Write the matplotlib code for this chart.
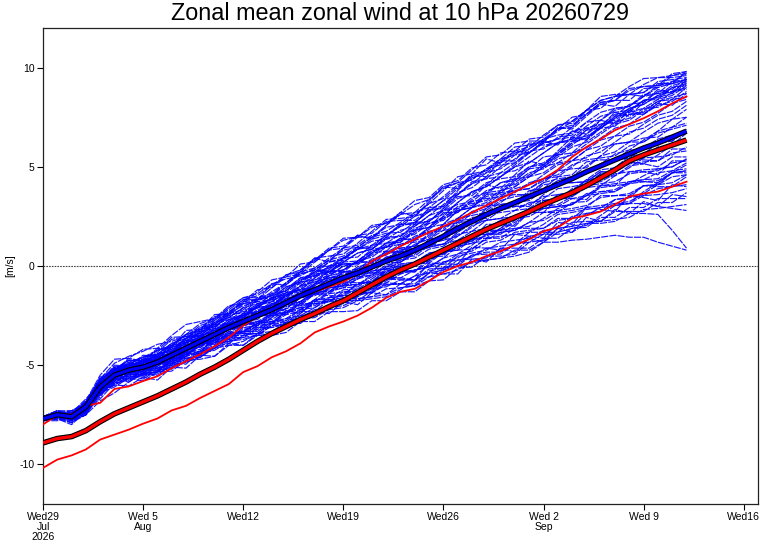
import matplotlib
matplotlib.use("Agg")
import matplotlib.pyplot as plt
import numpy as np
import pandas as pd

plt.rcParams['font.family'] = ['Liberation Sans', 'DejaVu Sans']

# ---------------- data ----------------
start_date = "2026-07-29"
n_days = 46
dates = pd.date_range(start_date, periods=n_days, freq="D")

# ensemble mean (m/s)
ens_mean = [-7.7, -7.5, -7.6, -7.1, -6.1, -5.5, -5.25, -5.1, -4.85, -4.5,
            -4.15, -3.8, -3.45, -3.1, -2.8, -2.5, -2.2, -1.85, -1.5, -1.2,
            -0.9, -0.6, -0.35, -0.05, 0.25, 0.5, 0.8, 1.15, 1.5, 1.9,
            2.25, 2.6, 2.9, 3.2, 3.5, 3.8, 4.1, 4.4, 4.75, 5.05,
            5.35, 5.65, 5.95, 6.2, 6.5, 6.8]

# climatological mean and bounds
clim_mean = [-8.92, -8.7, -8.6, -8.3, -7.85, -7.45, -7.15, -6.85, -6.55, -6.2,
             -5.85, -5.45, -5.1, -4.7, -4.25, -3.8, -3.4, -3.05, -2.7, -2.4,
             -2.05, -1.75, -1.35, -0.95, -0.55, -0.2, 0.1, 0.45, 0.8, 1.15,
             1.5, 1.85, 2.15, 2.45, 2.75, 3.1, 3.4, 3.7, 4.05, 4.45,
             4.85, 5.3, 5.6, 5.85, 6.1, 6.35]
clim_low = [-10.18, -9.76, -9.55, -9.25, -8.75, -8.5, -8.25, -7.95, -7.69, -7.28,
            -7.05, -6.65, -6.3, -5.95, -5.35, -5.05, -4.6, -4.3, -3.9, -3.35,
            -3.05, -2.8, -2.5, -2.1, -1.6, -1.3, -1.15, -0.75, -0.3, 0.0,
            0.2, 0.5, 0.75, 1.05, 1.35, 1.75, 1.95, 2.4, 2.55, 2.75,
            3.1, 3.5, 3.65, 3.75, 4.0, 4.25]
clim_high = [-7.99, -7.52, -7.49, -7.05, -6.9, -6.2, -6.07, -5.8, -5.56, -5.15,
             -4.8, -4.45, -4.05, -3.6, -3.0, -2.55, -2.25, -1.85, -1.53, -1.3,
             -1.05, -0.8, -0.4, 0.25, 0.6, 1.0, 1.35, 1.7, 2.0, 2.33,
             2.7, 3.05, 3.4, 3.75, 4.1, 4.4, 4.85, 5.5, 6.0, 6.4,
             6.85, 7.15, 7.45, 7.8, 8.2, 8.55]

# ensemble members, stored as deviations from the ensemble mean (m/s)
member_offsets = [
    [0.1,0.1,0.0,0.1,0.2,0.2,0.3,0.3,0.4,0.3,0.5,0.6,0.5,0.7,0.8,0.7,0.9,1.0,1.1,1.0,1.2,1.4,1.3,1.5,1.7,1.6,1.8,2.0,1.9,2.1,2.3,2.2,2.4,2.6,2.5,2.8,3.0,2.9,3.1,3.3,3.2,3.0,3.2,3.3,3.1,3.0],
    [0.0,-0.1,0.1,0.0,-0.1,0.1,0.2,0.1,0.0,0.2,0.3,0.2,0.1,0.3,0.4,0.6,0.5,0.3,0.4,0.6,0.8,0.7,0.5,0.7,0.9,1.1,1.0,0.8,1.0,1.3,1.5,1.4,1.6,1.9,2.2,2.4,2.3,2.6,3.1,3.5,3.3,3.0,2.8,3.0,2.7,2.6],
    [-0.1,0.0,-0.2,-0.3,-0.2,-0.3,-0.2,-0.4,-0.3,-0.5,-0.4,-0.6,-0.5,-0.7,-0.8,-0.6,-0.9,-1.0,-0.8,-1.1,-1.2,-1.0,-1.3,-1.5,-1.4,-1.6,-1.8,-1.7,-1.9,-2.1,-2.0,-2.3,-2.5,-2.4,-2.7,-2.6,-2.9,-3.1,-3.4,-3.6,-3.8,-4.2,-4.5,-5.0,-5.5,-6.0],
    [-0.1,-0.1,0.0,-0.2,0.1,0.0,-0.1,-0.2,-0.1,0.0,-0.3,-0.2,-0.4,-0.3,-0.5,-0.4,-0.6,-0.5,-0.7,-0.9,-0.8,-1.0,-1.2,-1.1,-1.3,-1.2,-1.5,-1.4,-1.6,-1.8,-1.7,-1.9,-2.2,-2.1,-2.3,-2.2,-2.5,-2.7,-2.6,-2.9,-3.1,-3.0,-3.3,-3.6,-4.7,-5.9],
    [0.1,0.2,0.1,0.2,0.3,0.2,0.4,0.5,0.4,0.6,0.5,0.7,0.6,0.8,0.9,0.8,0.7,0.9,1.1,1.0,1.2,1.1,1.3,1.5,1.4,1.2,1.4,1.6,1.5,1.7,1.9,1.8,1.6,1.8,2.0,2.2,2.1,1.9,2.1,2.3,2.5,2.4,2.6,2.8,2.7,2.6],
    [0.0,0.1,-0.1,0.0,-0.2,-0.3,-0.2,-0.4,-0.5,-0.3,-0.4,-0.2,-0.3,-0.5,-0.4,-0.6,-0.7,-0.5,-0.6,-0.8,-0.7,-0.9,-0.8,-1.0,-1.1,-0.9,-1.0,-1.2,-1.4,-1.3,-1.5,-1.4,-1.6,-1.5,-1.7,-1.9,-1.8,-2.0,-2.2,-2.1,-2.3,-2.5,-2.4,-2.6,-2.8,-2.9],
    [0.1,0.0,0.1,0.2,0.1,0.3,0.2,0.1,0.3,0.4,0.2,0.3,0.5,0.4,0.3,0.5,0.6,0.4,0.5,0.7,0.6,0.4,0.6,0.8,0.7,0.9,1.1,1.0,0.8,1.0,1.2,1.1,1.3,1.2,1.0,1.2,1.4,1.6,1.5,1.7,1.9,1.8,2.0,2.2,2.1,2.3],
    [-0.1,-0.2,-0.3,-0.4,-0.3,-0.2,-0.4,-0.3,-0.5,-0.6,-0.4,-0.5,-0.7,-0.6,-0.8,-0.7,-0.9,-1.1,-1.0,-1.2,-1.1,-1.3,-1.2,-1.0,-1.2,-1.4,-1.3,-1.1,-1.3,-1.5,-1.4,-1.2,-1.4,-1.6,-1.8,-1.7,-1.5,-1.7,-1.9,-2.1,-2.0,-2.2,-2.4,-2.3,-2.5,-2.7],
    [0.0,0.0,0.1,0.0,0.2,0.1,0.0,0.2,0.3,0.1,0.2,0.0,0.1,-0.1,0.0,0.2,0.1,-0.1,0.0,0.2,0.4,0.3,0.1,0.3,0.5,0.4,0.2,0.4,0.6,0.5,0.3,0.1,0.3,0.5,0.7,0.6,0.4,0.6,0.8,0.7,0.9,1.1,1.0,1.2,1.1,1.3],
    [0.1,0.1,0.2,0.1,0.0,-0.1,0.1,0.0,-0.2,-0.1,0.1,0.2,0.0,-0.1,0.1,0.0,-0.2,-0.1,-0.3,-0.2,0.0,-0.1,-0.3,-0.2,-0.4,-0.3,-0.1,-0.2,-0.4,-0.6,-0.5,-0.3,-0.5,-0.7,-0.6,-0.8,-1.0,-0.9,-0.7,-0.9,-1.1,-1.0,-1.2,-1.4,-1.3,-1.5],
    [0.1,0.2,0.3,0.2,0.4,0.6,0.7,0.8,0.9,0.7,0.6,0.8,0.7,0.9,1.1,1.0,1.2,1.4,1.3,1.5,1.7,1.9,1.8,2.0,1.9,2.1,2.3,2.2,2.4,2.3,2.1,2.3,2.2,2.0,2.2,2.4,2.3,2.1,2.3,2.5,2.4,2.2,2.4,2.3,2.5,2.4],
    [0.0,-0.1,-0.2,-0.1,0.0,0.1,-0.1,-0.2,-0.1,-0.3,-0.2,-0.4,-0.3,-0.1,-0.2,-0.4,-0.3,-0.5,-0.4,-0.2,-0.3,-0.5,-0.7,-0.6,-0.4,-0.5,-0.7,-0.9,-0.8,-0.6,-0.7,-0.9,-1.1,-1.0,-0.8,-0.9,-1.1,-1.3,-1.2,-1.0,-1.2,-1.4,-1.6,-1.5,-1.7,-1.6],
    [0.0,0.1,0.0,0.1,0.3,0.4,0.3,0.2,0.4,0.5,0.7,0.6,0.4,0.5,0.3,0.4,0.6,0.8,0.7,0.5,0.6,0.8,1.0,0.9,0.7,0.8,1.0,1.2,1.1,1.3,1.5,1.4,1.6,1.8,1.7,1.9,2.1,2.0,1.8,1.9,2.1,2.3,2.2,2.4,2.3,2.2],
    [-0.1,0.0,-0.1,-0.3,-0.1,-0.2,0.0,-0.1,0.1,0.0,-0.2,-0.1,0.1,0.2,0.0,0.1,0.3,0.2,0.0,0.1,-0.1,0.0,0.2,0.1,-0.1,-0.3,-0.2,0.0,-0.2,-0.4,-0.3,-0.1,0.1,0.0,-0.2,0.0,0.2,0.1,-0.1,0.1,0.3,0.2,0.4,0.6,0.5,0.7],
    [-0.1,-0.2,-0.1,-0.2,-0.3,-0.4,-0.5,-0.4,-0.6,-0.5,-0.7,-0.6,-0.8,-0.7,-0.9,-1.0,-0.8,-0.9,-1.1,-1.0,-1.2,-1.4,-1.3,-1.5,-1.7,-1.6,-1.8,-1.9,-1.7,-1.9,-2.1,-2.3,-2.5,-2.7,-2.8,-2.6,-2.4,-2.5,-2.7,-2.5,-2.3,-2.5,-2.2,-2.0,-1.8,-1.7],
    [0.1,0.0,0.1,0.0,0.1,0.0,0.2,0.3,0.2,0.4,0.3,0.5,0.4,0.2,0.3,0.1,0.2,0.4,0.3,0.5,0.4,0.6,0.5,0.3,0.4,0.6,0.5,0.7,0.9,0.8,1.0,0.8,0.6,0.8,1.0,0.9,1.1,1.3,1.2,1.4,1.6,1.5,1.7,1.9,1.8,2.0],
    [0.0,0.0,-0.1,0.0,-0.1,0.0,-0.2,-0.1,-0.3,-0.2,-0.1,-0.3,-0.2,-0.4,-0.6,-0.5,-0.7,-0.6,-0.8,-0.7,-0.9,-0.8,-0.6,-0.7,-0.5,-0.6,-0.8,-0.7,-0.9,-0.8,-1.0,-0.8,-0.6,-0.8,-0.7,-0.5,-0.7,-0.9,-0.8,-1.0,-0.8,-0.6,-0.8,-0.6,-0.4,-0.5],
    [0.1,0.1,0.0,0.2,0.4,0.3,0.5,0.4,0.3,0.5,0.4,0.3,0.5,0.7,0.6,0.8,0.7,0.6,0.8,0.9,1.1,1.0,1.2,1.4,1.3,1.5,1.7,1.6,1.8,2.0,2.2,2.1,2.3,2.5,2.4,2.6,2.5,2.3,2.5,2.7,2.6,2.4,2.6,2.5,2.3,2.5],
    [-0.1,-0.1,0.0,-0.1,-0.2,-0.1,-0.3,-0.2,-0.4,-0.3,-0.5,-0.7,-0.6,-0.8,-0.7,-0.9,-1.1,-1.0,-1.2,-1.4,-1.3,-1.5,-1.4,-1.6,-1.8,-1.7,-1.5,-1.7,-1.6,-1.4,-1.6,-1.8,-1.7,-1.9,-2.1,-2.0,-2.2,-2.4,-2.6,-2.8,-3.0,-3.2,-3.1,-3.3,-3.5,-3.7],
    [0.0,0.1,0.2,0.1,0.0,0.2,0.1,0.3,0.2,0.1,0.3,0.2,0.4,0.6,0.5,0.4,0.2,0.3,0.5,0.4,0.3,0.1,0.2,0.4,0.3,0.5,0.7,0.6,0.4,0.5,0.7,0.9,0.8,0.6,0.4,0.5,0.7,0.9,1.1,1.0,1.2,1.4,1.3,1.5,1.7,1.6],
    [0.0,-0.1,0.0,0.1,-0.1,-0.2,-0.1,0.0,-0.1,0.1,0.0,-0.1,-0.3,-0.2,-0.1,-0.3,-0.2,0.0,-0.1,-0.3,-0.2,-0.4,-0.6,-0.5,-0.3,-0.4,-0.6,-0.5,-0.7,-0.9,-1.1,-1.0,-1.2,-1.4,-1.3,-1.5,-1.4,-1.6,-1.8,-2.0,-2.2,-2.5,-2.8,-3.2,-3.6,-4.0],
    [0.1,0.0,0.1,0.2,0.3,0.4,0.3,0.5,0.6,0.5,0.7,0.9,0.8,1.0,1.2,1.1,1.3,1.2,1.0,1.1,0.9,1.0,1.2,1.1,1.3,1.5,1.4,1.6,1.8,1.7,1.9,2.1,2.0,2.2,2.4,2.6,2.8,2.7,2.9,3.1,3.0,3.2,3.1,2.9,2.8,2.9],
    [0.0,0.0,0.0,-0.1,0.0,0.1,0.0,-0.1,0.0,0.1,-0.1,0.0,0.1,0.0,-0.2,-0.1,0.1,0.0,0.2,0.1,-0.1,0.1,0.3,0.2,0.0,0.2,0.1,-0.1,0.1,0.3,0.5,0.4,0.2,0.0,0.2,0.4,0.3,0.1,-0.1,0.1,0.0,-0.2,0.0,0.2,0.1,-0.1],
    [-0.1,0.0,-0.2,-0.4,-0.3,-0.5,-0.4,-0.3,-0.5,-0.4,-0.6,-0.5,-0.3,-0.4,-0.2,-0.3,-0.5,-0.4,-0.6,-0.5,-0.7,-0.6,-0.8,-0.7,-0.9,-1.1,-1.0,-1.2,-1.1,-1.3,-1.2,-1.0,-1.1,-1.3,-1.5,-1.4,-1.2,-1.3,-1.1,-1.3,-1.5,-1.4,-1.6,-1.8,-1.7,-1.9],
    [0.1,0.1,0.2,0.1,0.2,0.1,0.3,0.2,0.1,0.2,0.4,0.3,0.2,0.4,0.3,0.5,0.4,0.6,0.8,0.7,0.9,0.8,1.0,0.9,1.1,1.3,1.2,1.4,1.3,1.5,1.4,1.6,1.5,1.3,1.5,1.4,1.6,1.8,1.7,1.9,2.1,2.3,2.2,2.4,2.6,2.5],
    [0.0,-0.1,-0.1,0.0,0.1,0.0,0.1,0.2,0.1,0.0,0.1,0.3,0.2,0.1,0.2,0.0,-0.1,0.1,0.0,-0.2,-0.1,-0.3,-0.2,-0.4,-0.3,-0.2,-0.4,-0.3,-0.5,-0.4,-0.2,-0.3,-0.1,-0.2,-0.4,-0.3,-0.5,-0.7,-0.6,-0.4,-0.6,-0.5,-0.7,-0.9,-0.8,-1.0],
    [-0.1,-0.1,-0.2,-0.1,-0.2,-0.3,-0.2,-0.1,-0.3,-0.4,-0.3,-0.5,-0.4,-0.6,-0.5,-0.4,-0.6,-0.8,-0.7,-0.6,-0.4,-0.5,-0.3,-0.4,-0.2,-0.3,-0.1,-0.2,-0.4,-0.3,-0.5,-0.7,-0.6,-0.8,-0.7,-0.9,-1.1,-1.0,-1.2,-1.1,-1.3,-1.5,-1.4,-1.3,-1.5,-1.4],
    [0.0,0.1,0.1,0.2,0.1,0.2,0.3,0.2,0.4,0.3,0.5,0.4,0.6,0.5,0.7,0.9,0.8,1.0,1.2,1.1,1.3,1.5,1.4,1.6,1.5,1.7,1.9,1.8,2.0,2.2,2.1,2.3,2.5,2.4,2.6,2.5,2.7,2.9,3.1,3.3,3.2,3.4,3.5,3.3,3.0,2.8],
    [0.0,0.0,0.1,0.0,-0.1,0.0,-0.1,0.1,0.2,0.0,-0.1,0.1,0.0,0.2,0.1,0.3,0.2,0.4,0.3,0.1,0.2,0.0,0.1,-0.1,0.0,-0.2,-0.1,0.1,0.0,0.2,0.4,0.3,0.5,0.7,0.6,0.8,1.0,0.9,1.1,1.3,1.2,1.0,1.2,1.4,1.3,1.5],
    [0.1,0.0,-0.1,-0.2,-0.1,0.0,-0.1,-0.2,-0.1,-0.2,0.0,-0.1,-0.2,0.0,0.1,0.0,-0.2,-0.3,-0.1,0.0,0.1,0.3,0.2,0.0,0.1,0.3,0.2,0.0,-0.2,-0.1,0.1,0.0,-0.2,-0.4,-0.3,-0.5,-0.7,-0.6,-0.4,-0.6,-0.8,-0.7,-0.5,-0.7,-0.9,-0.8],
    [0.0,0.1,0.0,0.1,0.0,-0.1,0.0,0.1,0.0,-0.1,-0.2,0.0,0.1,-0.1,-0.2,-0.1,0.1,0.2,0.1,0.3,0.5,0.4,0.6,0.8,0.7,0.9,0.8,1.0,0.9,1.1,0.9,0.7,0.9,0.8,1.0,1.2,1.1,0.9,0.7,0.9,0.8,0.6,0.8,1.0,0.9,1.1],
    [-0.1,0.0,-0.1,-0.2,-0.4,-0.3,-0.2,-0.3,-0.1,-0.2,-0.3,-0.1,-0.2,-0.1,-0.3,-0.5,-0.4,-0.3,-0.5,-0.6,-0.5,-0.7,-0.9,-1.1,-1.0,-0.8,-1.0,-1.2,-1.1,-0.9,-1.1,-1.3,-1.2,-1.4,-1.3,-1.1,-1.3,-1.5,-1.7,-1.6,-1.8,-2.0,-1.9,-2.1,-2.0,-2.2],
    [0.1,0.2,0.1,0.0,0.1,0.3,0.2,0.1,0.2,0.3,0.1,0.2,0.3,0.2,0.4,0.2,0.1,-0.1,0.1,0.3,0.2,0.4,0.6,0.5,0.7,0.6,0.4,0.2,0.3,0.5,0.7,0.6,0.8,1.0,1.2,1.1,1.3,1.2,1.4,1.6,1.8,1.7,1.9,2.1,2.0,1.9],
    [0.0,0.0,-0.1,-0.2,-0.1,-0.2,-0.3,-0.5,-0.4,-0.6,-0.7,-0.8,-0.7,-0.9,-1.0,-0.9,-0.7,-0.8,-1.0,-0.9,-0.7,-0.9,-1.1,-1.3,-1.2,-1.4,-1.3,-1.5,-1.7,-1.6,-1.8,-1.7,-1.9,-2.1,-2.0,-2.2,-2.1,-1.9,-2.1,-2.3,-2.2,-2.4,-2.3,-2.1,-2.3,-2.2],
    [0.0,0.1,0.2,0.3,0.2,0.1,0.3,0.5,0.4,0.6,0.5,0.4,0.6,0.5,0.7,0.6,0.5,0.7,0.9,0.8,0.6,0.7,0.5,0.6,0.8,0.7,0.9,1.1,1.3,1.2,1.0,1.2,1.1,0.9,1.1,1.3,1.5,1.7,1.9,2.1,2.0,2.2,2.4,2.3,2.2,2.4],
    [0.0,-0.1,0.0,-0.1,0.0,0.2,0.1,0.0,-0.2,-0.1,-0.3,-0.2,-0.4,-0.3,-0.5,-0.4,-0.2,-0.3,-0.1,-0.2,0.0,-0.1,0.1,0.0,0.2,0.1,0.3,0.2,0.0,-0.2,-0.1,-0.3,-0.5,-0.4,-0.6,-0.4,-0.2,-0.4,-0.6,-0.8,-0.7,-0.9,-1.1,-1.3,-1.5,-1.4],
    [0.1,0.0,0.1,0.0,-0.1,0.0,0.1,0.0,0.2,0.1,0.3,0.2,0.0,0.1,0.3,0.2,0.4,0.5,0.3,0.2,0.4,0.6,0.5,0.7,0.9,0.8,0.6,0.8,1.0,0.9,0.7,0.5,0.7,0.6,0.4,0.6,0.5,0.7,0.6,0.4,0.2,0.4,0.3,0.5,0.4,0.3],
    [-0.1,-0.2,-0.1,-0.3,-0.2,0.0,-0.1,0.1,0.0,0.2,0.1,0.0,-0.1,0.1,0.0,0.2,0.3,0.1,0.2,0.4,0.3,0.2,0.0,-0.2,-0.4,-0.5,-0.7,-0.6,-0.8,-1.0,-0.9,-1.1,-1.0,-0.8,-1.0,-0.9,-1.1,-1.3,-1.2,-1.4,-1.6,-1.5,-1.7,-1.9,-1.8,-2.0],
    [0.0,0.1,0.1,0.2,0.4,0.3,0.2,0.3,0.1,0.2,0.1,0.2,0.3,0.1,0.2,0.4,0.6,0.5,0.7,0.9,0.8,1.0,1.2,1.3,1.1,1.0,1.2,1.4,1.6,1.8,1.7,1.9,1.8,1.6,1.7,1.9,2.1,2.0,2.2,2.1,1.9,2.1,2.0,1.8,1.9,1.7],
    [0.0,0.0,-0.1,-0.2,-0.3,-0.2,-0.1,-0.3,-0.2,-0.1,0.0,-0.2,-0.1,0.0,0.1,-0.1,0.0,-0.2,-0.3,-0.1,-0.2,-0.4,-0.3,-0.1,0.0,0.2,0.0,-0.2,-0.1,0.1,0.0,0.2,0.4,0.3,0.1,0.0,0.2,0.1,0.3,0.5,0.4,0.6,0.5,0.3,0.5,0.4],
    [0.0,0.2,-0.1,0.1,-0.3,-0.6,-0.4,-0.2,0.1,-0.2,0.2,0.5,0.3,0.7,0.4,0.8,0.6,0.3,0.7,1.0,0.6,0.9,1.3,0.9,1.2,1.6,1.3,1.8,1.5,1.9,2.3,1.9,2.4,2.1,2.7,2.4,2.9,2.5,2.8,3.1,2.7,3.0,2.6,2.9,2.7,3.0],
    [0.1,-0.1,0.2,-0.2,0.3,0.1,0.4,0.0,0.3,-0.1,-0.4,-0.1,-0.5,-0.2,-0.6,-0.3,-0.7,-0.4,-0.9,-0.5,-0.8,-1.2,-0.9,-1.3,-0.8,-1.1,-1.5,-1.0,-1.4,-1.8,-1.3,-1.7,-2.1,-1.6,-2.0,-2.4,-1.9,-2.3,-1.8,-2.2,-2.6,-2.1,-2.5,-2.9,-2.4,-2.8],
    [-0.1,0.1,-0.2,0.0,0.4,0.2,0.6,0.3,0.7,0.4,0.9,0.6,1.0,0.7,1.1,0.8,1.3,0.9,1.2,1.6,1.1,1.5,1.9,1.4,1.8,2.2,1.7,2.1,2.5,2.0,2.4,2.8,2.3,2.6,2.2,2.5,2.0,2.4,1.9,2.3,1.8,2.2,1.7,2.0,1.6,1.9],
    [0.0,-0.2,0.1,-0.3,-0.5,-0.2,-0.6,-0.3,-0.7,-0.4,-0.8,-0.5,-0.2,-0.6,-0.3,-0.7,-0.4,-0.1,-0.5,-0.2,-0.6,-0.9,-0.5,-0.8,-0.4,-0.7,-1.1,-0.7,-1.0,-0.6,-0.9,-0.5,-0.8,-1.2,-0.8,-1.1,-0.7,-1.0,-1.4,-1.0,-1.3,-0.9,-1.2,-1.6,-1.2,-1.5],
    [0.1,0.0,0.3,0.1,0.2,0.5,0.2,0.6,0.3,0.1,0.4,0.0,0.3,-0.1,0.2,0.5,0.1,0.4,0.0,0.3,0.7,0.3,0.6,0.2,0.5,0.9,0.5,0.8,1.2,0.8,1.1,1.5,1.0,1.4,1.8,1.3,1.7,2.1,1.6,2.0,2.4,1.9,2.3,2.7,2.2,2.6],
    [-0.1,-0.3,0.0,-0.4,-0.1,-0.5,-0.8,-0.5,-0.9,-0.6,-1.0,-0.7,-1.1,-0.8,-1.2,-0.9,-1.3,-1.0,-1.4,-1.1,-1.5,-1.2,-1.6,-1.3,-1.7,-1.4,-1.8,-1.5,-1.9,-2.3,-1.9,-2.4,-2.0,-2.5,-2.1,-2.6,-2.2,-2.7,-2.3,-2.8,-2.5,-3.0,-2.7,-3.2,-2.9,-3.3],
    [0.0,0.1,0.0,0.2,0.5,0.3,0.1,0.4,0.6,0.9,0.6,0.4,0.7,1.0,1.2,0.9,0.7,1.0,1.3,1.6,1.4,1.2,1.5,1.8,2.1,1.9,1.7,2.0,2.3,2.6,2.4,2.2,2.5,2.8,2.6,2.3,2.1,2.4,2.2,1.9,2.2,2.0,1.7,2.0,2.3,2.1],
    [0.1,0.0,-0.1,0.1,-0.2,0.0,0.3,0.1,-0.1,0.2,0.0,-0.3,-0.1,0.2,0.0,-0.2,0.1,0.4,0.2,0.0,0.3,0.1,-0.2,0.1,0.4,0.2,-0.1,0.2,0.5,0.3,0.0,0.3,0.6,0.4,0.1,0.4,0.7,0.5,0.2,0.5,0.8,0.6,0.3,0.6,0.9,0.7],
    [0.0,0.2,0.1,-0.1,-0.4,-0.2,0.1,-0.1,-0.4,-0.2,-0.5,-0.8,-0.6,-0.3,-0.6,-0.9,-0.7,-1.0,-1.3,-1.1,-0.8,-1.1,-1.4,-1.2,-0.9,-1.2,-1.5,-1.3,-1.6,-1.9,-1.7,-2.0,-2.3,-2.1,-1.8,-2.1,-2.4,-2.2,-2.5,-2.8,-2.6,-2.9,-3.2,-3.0,-3.3,-3.1],
    [0.0,-0.1,0.1,0.3,0.6,0.8,0.6,0.9,0.7,1.0,1.2,1.0,0.8,1.1,0.9,1.2,1.5,1.3,1.6,1.4,1.7,2.0,1.8,1.5,1.8,2.1,1.9,2.2,2.5,2.3,2.6,2.9,2.7,3.0,2.8,2.5,2.8,3.1,2.9,3.2,3.0,2.7,3.0,2.8,3.1,2.9],
    [-0.1,0.0,-0.2,-0.4,-0.7,-0.9,-0.6,-0.3,-0.5,-0.2,-0.4,-0.1,-0.3,0.0,-0.2,0.1,-0.1,0.2,0.0,0.3,0.1,-0.2,0.0,0.3,0.1,0.4,0.2,0.5,0.3,0.0,0.2,-0.1,0.1,-0.2,0.0,0.3,0.1,-0.2,-0.5,-0.3,-0.6,-0.4,-0.8,-1.2,-1.0,-1.3],
    [0.1,0.1,0.0,0.2,0.0,0.2,0.5,0.3,0.5,0.8,0.6,0.3,0.5,0.2,0.4,0.1,0.3,0.0,-0.3,-0.1,-0.4,-0.2,-0.5,-0.8,-0.6,-0.9,-0.7,-1.0,-0.8,-1.1,-1.4,-1.2,-1.5,-1.3,-1.6,-1.9,-1.7,-2.0,-1.8,-1.5,-1.8,-2.1,-1.9,-2.2,-2.5,-2.3],
    [0.0,0.0,0.2,0.0,-0.2,0.1,-0.1,0.2,0.4,0.2,0.5,0.7,0.5,0.8,1.0,0.8,1.1,1.3,1.1,1.4,1.7,1.5,1.8,2.1,1.9,2.2,2.5,2.3,2.6,2.4,2.7,2.5,2.8,2.6,2.9,2.7,3.0,2.8,3.1,2.9,3.2,3.0,2.8,3.1,2.9,2.7],
    [-0.1,-0.1,-0.3,-0.1,-0.4,-0.2,-0.5,-0.3,-0.1,-0.4,-0.2,-0.5,-0.7,-0.5,-0.8,-1.0,-0.8,-1.1,-0.9,-0.6,-0.9,-0.7,-1.0,-0.8,-0.5,-0.8,-1.1,-0.9,-0.6,-0.9,-0.7,-1.0,-1.3,-1.1,-0.8,-1.1,-1.4,-1.2,-1.5,-1.3,-1.6,-1.4,-1.7,-2.0,-1.8,-2.1],
    [0.0,0.1,-0.1,0.2,0.0,0.3,0.1,-0.2,0.0,-0.3,-0.1,0.2,0.0,0.3,0.6,0.4,0.2,0.5,0.3,0.6,0.9,0.7,0.4,0.7,0.5,0.2,0.5,0.3,0.6,0.9,0.7,1.0,0.8,1.1,1.4,1.2,1.5,1.3,1.6,1.9,1.7,2.0,1.8,2.1,1.9,2.2],
    [0.1,-0.1,-0.3,-0.2,0.1,-0.2,-0.4,-0.7,-0.5,-0.8,-0.6,-0.9,-1.1,-0.9,-1.2,-1.0,-1.3,-1.5,-1.3,-1.6,-1.4,-1.7,-1.9,-1.7,-2.0,-1.8,-2.1,-1.9,-2.2,-2.0,-2.3,-2.1,-2.4,-2.6,-2.3,-2.5,-2.2,-2.4,-2.1,-2.3,-2.0,-2.2,-1.9,-2.1,-1.8,-2.0],
    [0.0,0.1,0.3,0.1,0.3,0.0,0.2,0.4,0.2,0.5,0.3,0.6,0.9,0.7,1.0,1.3,1.1,1.4,1.2,1.5,1.8,1.6,1.9,1.7,2.0,1.8,1.5,1.7,1.4,1.6,1.3,1.5,1.8,2.0,2.3,2.1,2.4,2.2,2.5,2.3,2.6,2.4,2.7,2.5,2.8,2.6],
    [0.0,-0.1,0.0,-0.2,0.2,0.4,0.1,0.3,0.0,0.2,-0.1,0.1,-0.2,0.0,0.2,0.0,-0.3,-0.1,0.1,-0.2,0.0,0.3,0.0,-0.3,0.0,0.3,0.1,-0.2,0.1,0.4,0.1,-0.2,0.1,-0.2,-0.5,-0.2,0.1,-0.2,-0.5,-0.3,-0.6,-0.3,-0.6,-0.9,-0.6,-0.9],
    [-0.1,0.0,-0.1,0.1,-0.1,-0.4,-0.2,0.0,0.2,0.0,0.3,0.1,-0.1,0.1,0.3,0.6,0.4,0.2,0.5,0.8,1.1,0.9,1.2,1.0,1.3,1.6,1.4,1.1,1.3,1.0,0.8,1.1,0.9,1.2,1.5,1.3,1.6,1.9,1.7,2.0,2.3,2.1,2.4,2.2,2.5,2.3],
    [0.0,0.0,-0.2,-0.4,-0.2,-0.5,-0.3,-0.6,-0.4,-0.7,-0.5,-0.8,-0.6,-0.4,-0.7,-0.5,-0.3,-0.6,-0.4,-0.7,-0.9,-1.2,-1.0,-1.3,-1.1,-1.4,-1.7,-1.5,-1.3,-1.6,-1.9,-2.2,-2.0,-2.3,-2.6,-2.4,-2.7,-2.5,-2.8,-2.6,-2.9,-2.7,-3.0,-2.8,-3.1,-3.4],
    [0.1,0.2,0.0,0.2,0.4,0.2,0.0,0.2,0.4,0.2,0.5,0.3,0.1,0.4,0.2,0.5,0.8,0.6,0.9,0.7,0.5,0.8,0.6,0.9,1.2,1.0,1.3,1.1,1.4,1.7,2.0,1.8,2.1,2.4,2.2,2.5,2.8,2.6,2.9,3.2,3.0,3.3,3.1,2.9,3.2,3.0],
    [0.0,-0.2,-0.1,-0.3,0.0,-0.2,0.1,-0.1,0.2,0.0,-0.2,0.1,-0.1,-0.3,-0.1,-0.4,-0.2,-0.5,-0.3,-0.1,-0.4,-0.2,0.1,-0.1,0.2,0.0,-0.3,-0.1,-0.4,-0.2,0.1,-0.1,0.2,0.0,0.3,0.1,0.4,0.2,0.5,0.3,0.0,0.2,-0.1,0.1,-0.2,0.0],
    [0.1,0.0,0.2,0.4,0.2,0.0,-0.2,0.0,-0.3,-0.5,-0.3,-0.6,-0.4,-0.7,-0.5,-0.8,-0.6,-0.9,-0.7,-0.5,-0.2,-0.4,-0.1,-0.3,-0.6,-0.4,-0.7,-0.5,-0.8,-1.1,-0.9,-1.2,-1.0,-0.7,-0.9,-0.6,-0.8,-0.5,-0.7,-0.4,-0.6,-0.3,-0.5,-0.2,-0.4,-0.1],
    [0.0,0.1,0.0,-0.1,0.1,0.3,0.5,0.3,0.6,0.4,0.7,0.5,0.8,0.6,0.9,0.7,0.5,0.8,0.6,0.9,0.7,1.0,0.8,1.1,0.9,0.7,1.0,0.8,0.6,0.9,0.7,1.0,1.3,1.1,1.4,1.7,1.5,1.8,2.1,1.9,2.2,2.5,2.3,2.6,2.4,2.7],
    [-0.1,-0.2,-0.4,-0.2,-0.6,-0.4,-0.2,-0.4,-0.2,0.0,-0.2,0.0,0.2,0.0,-0.2,0.0,-0.3,-0.1,-0.4,-0.2,-0.5,-0.3,-0.6,-0.4,-0.7,-0.5,-0.8,-0.6,-0.9,-0.7,-1.0,-0.8,-1.1,-0.9,-0.6,-0.8,-0.5,-0.7,-0.4,-0.2,-0.4,-0.1,-0.3,0.0,-0.2,0.1],
]

tick_dates = ["2026-07-29", "2026-08-05", "2026-08-12", "2026-08-19",
              "2026-08-26", "2026-09-02", "2026-09-09", "2026-09-16"]
tick_labels = ["Wed29\nJul\n2026", "Wed 5\nAug", "Wed12", "Wed19",
               "Wed26", "Wed 2\nSep", "Wed 9", "Wed16"]
y_ticks = [-10, -5, 0, 5, 10]
title = "Zonal mean zonal wind at 10 hPa 20260729"

# ---------------- plot ----------------
fig = plt.figure(figsize=(7.67, 5.48), dpi=100)
ax = fig.add_axes([43/767, 1-504/548, (758-43)/767, (504-28)/548])

mean_arr = np.array(ens_mean)
for off in member_offsets:
    ax.plot(dates, mean_arr + np.array(off), color="#0000ff", lw=0.85,
            ls=(0, (6, 1)), alpha=0.9, zorder=2)

ax.axhline(0, color="#444444", lw=0.8, ls=(0, (1.5, 1)), zorder=1)

ax.plot(dates, clim_low, color="red", lw=1.3, zorder=3)
ax.plot(dates, clim_high, color="red", lw=1.3, zorder=3)

ax.plot(dates, ens_mean, color="black", lw=3.9, zorder=4, solid_capstyle="butt")
ax.plot(dates, ens_mean, color="#0000ff", lw=2.3, zorder=5, solid_capstyle="butt")

ax.plot(dates, clim_mean, color="black", lw=4.0, zorder=6, solid_capstyle="butt")
ax.plot(dates, clim_mean, color="red", lw=2.4, zorder=7, solid_capstyle="butt")

ax.set_xlim(pd.Timestamp("2026-07-29"), pd.Timestamp("2026-09-17"))
ax.set_ylim(-12, 12)
ax.set_yticks(y_ticks)
ax.set_yticklabels([str(v) for v in y_ticks])
ax.set_xticks(pd.to_datetime(tick_dates))
ax.set_xticklabels(tick_labels, linespacing=1.0)
ax.tick_params(axis="both", direction="out", length=4, width=0.8,
               labelsize=7.5, colors="black", pad=2)
for sp in ax.spines.values():
    sp.set_linewidth(0.9)
    sp.set_color("#222222")

ax.set_ylabel("[m/s]", fontsize=7.5, labelpad=3)
fig.text((43 + 758) / 2 / 767, 1 - 14 / 548, title, ha="center", va="center",
         fontsize=16.8)

fig.savefig("out.png", dpi=100)
